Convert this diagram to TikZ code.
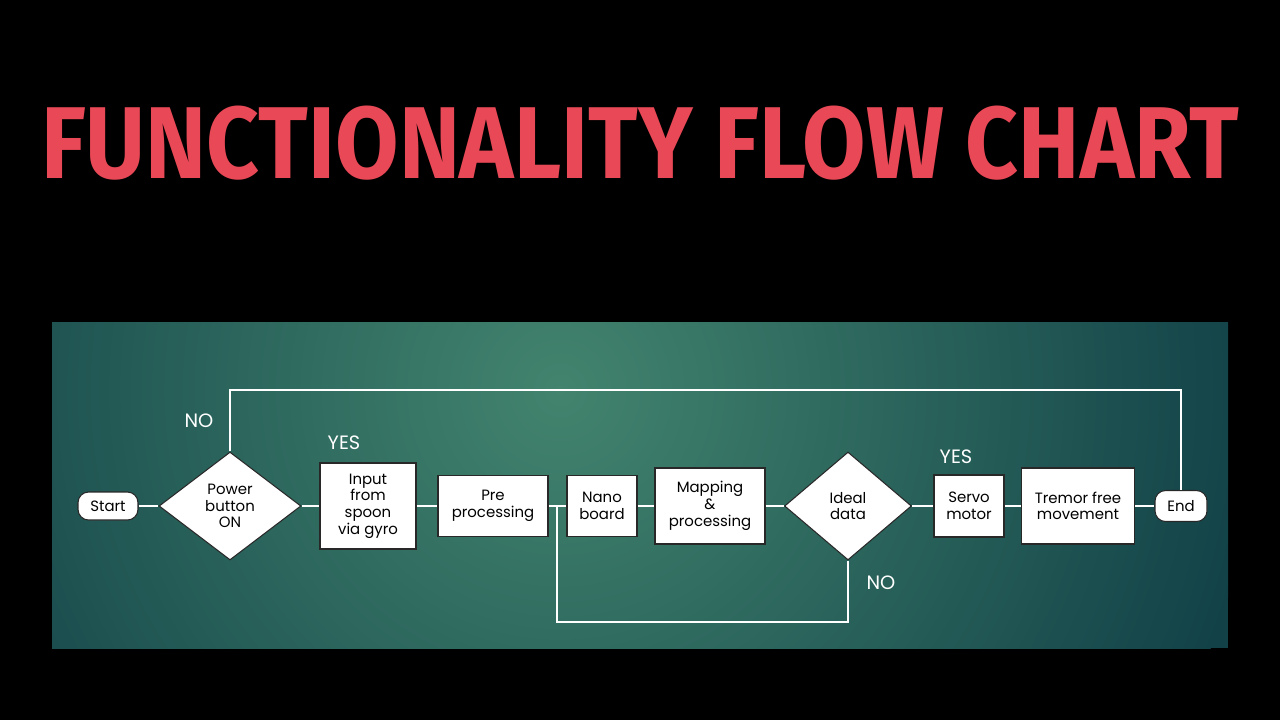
\documentclass[tikz,border=0pt]{standalone}
\usepackage{fontspec}
\setmainfont{Poppins}
\newfontfamily\titlefont{Fira Sans}
\usetikzlibrary{shapes.geometric, positioning}
\definecolor{titlered}{RGB}{233,72,86}
\definecolor{panelin}{RGB}{66,132,110}
\definecolor{panelout}{RGB}{18,66,72}
\definecolor{boxline}{RGB}{40,40,40}
\begin{document}
\begin{tikzpicture}[
		x=0.02cm, y=-0.02cm,
		texts/.style = {text=black, font=\fontsize{8.5}{9.5}\selectfont, align=center, inner sep=1pt},
		flowline/.style = {draw=white, line width=1.3pt},
		procbox/.style = {texts, rectangle, fill=white, draw=boxline, line width=0.6pt},
		term/.style = {procbox, rounded corners=6pt},
		decide/.style = {texts, diamond, fill=white, draw=boxline, line width=0.6pt, aspect=1.35},
		labeltexts/.style = {text=white, font=\fontsize{11}{12}\selectfont}
	]
	\fill[black] (0,0) rectangle (1280,720);
	\useasboundingbox (0,0) rectangle (1280,720);
	\node[text=titlered, font=\titlefont\bfseries] (title) at (640,143)
		{\resizebox{23.96cm}{1.45cm}{FUNCTIONALITY FLOW CHART}};
	\begin{scope}
		\clip (52,322) rectangle (1228,648);
		\fill[panelout] (52,322) rectangle (1228,648);
		\shade[inner color=panelin, outer color=panelout] (560,390) circle (700);
	\end{scope}
	% chart nodes
	\node[term, minimum width=1.2cm, minimum height=0.56cm] (start) at (108,506) {Start};
	\node[decide, minimum width=2.84cm, minimum height=2.16cm] (power) at (230,506) {Power\\button\\ON};
	\node[procbox, minimum width=1.92cm, minimum height=1.72cm] (input) at (368,506) {Input\\from\\spoon\\via gyro};
	\node[procbox, minimum width=2.2cm, minimum height=1.22cm] (pre) at (493,506) {Pre\\processing};
	\node[procbox, minimum width=1.4cm, minimum height=1.22cm] (nano) at (602,506) {Nano\\board};
	\node[procbox, minimum width=2.2cm, minimum height=1.52cm] (mapping) at (710,506) {Mapping\\\&\\processing};
	\node[decide, minimum width=2.54cm, minimum height=2.16cm] (ideal) at (848,506) {Ideal\\data};
	\node[procbox, minimum width=1.4cm, minimum height=1.24cm] (servo) at (969,506) {Servo\\motor};
	\node[procbox, minimum width=2.26cm, minimum height=1.52cm] (tremor) at (1078,506) {Tremor free\\movement};
	\node[term, minimum width=1.04cm, minimum height=0.62cm] (end) at (1181,506) {End};
	\coordinate (split) at (557,506);
	% connectors
	\draw[flowline] (start) -- (power);
	\draw[flowline] (power) -- (input);
	\draw[flowline] (input) -- (pre);
	\draw[flowline] (pre) -- (nano);
	\draw[flowline] (nano) -- (mapping);
	\draw[flowline] (mapping) -- (ideal);
	\draw[flowline] (ideal) -- (servo);
	\draw[flowline] (servo) -- (tremor);
	\draw[flowline] (tremor) -- (end);
	\draw[flowline] (power.north) |- (1181,390) -- (end.north);
	\draw[flowline] (ideal.south) |- (557,622) -- (split);
	% labels
	\node[labeltexts] (nopower) at (199,421) {NO};
	\node[labeltexts] (yespower) at (344,443) {YES};
	\node[labeltexts] (yesideal) at (956,457) {YES};
	\node[labeltexts] (noideal) at (881,583) {NO};
\end{tikzpicture}
\end{document}
